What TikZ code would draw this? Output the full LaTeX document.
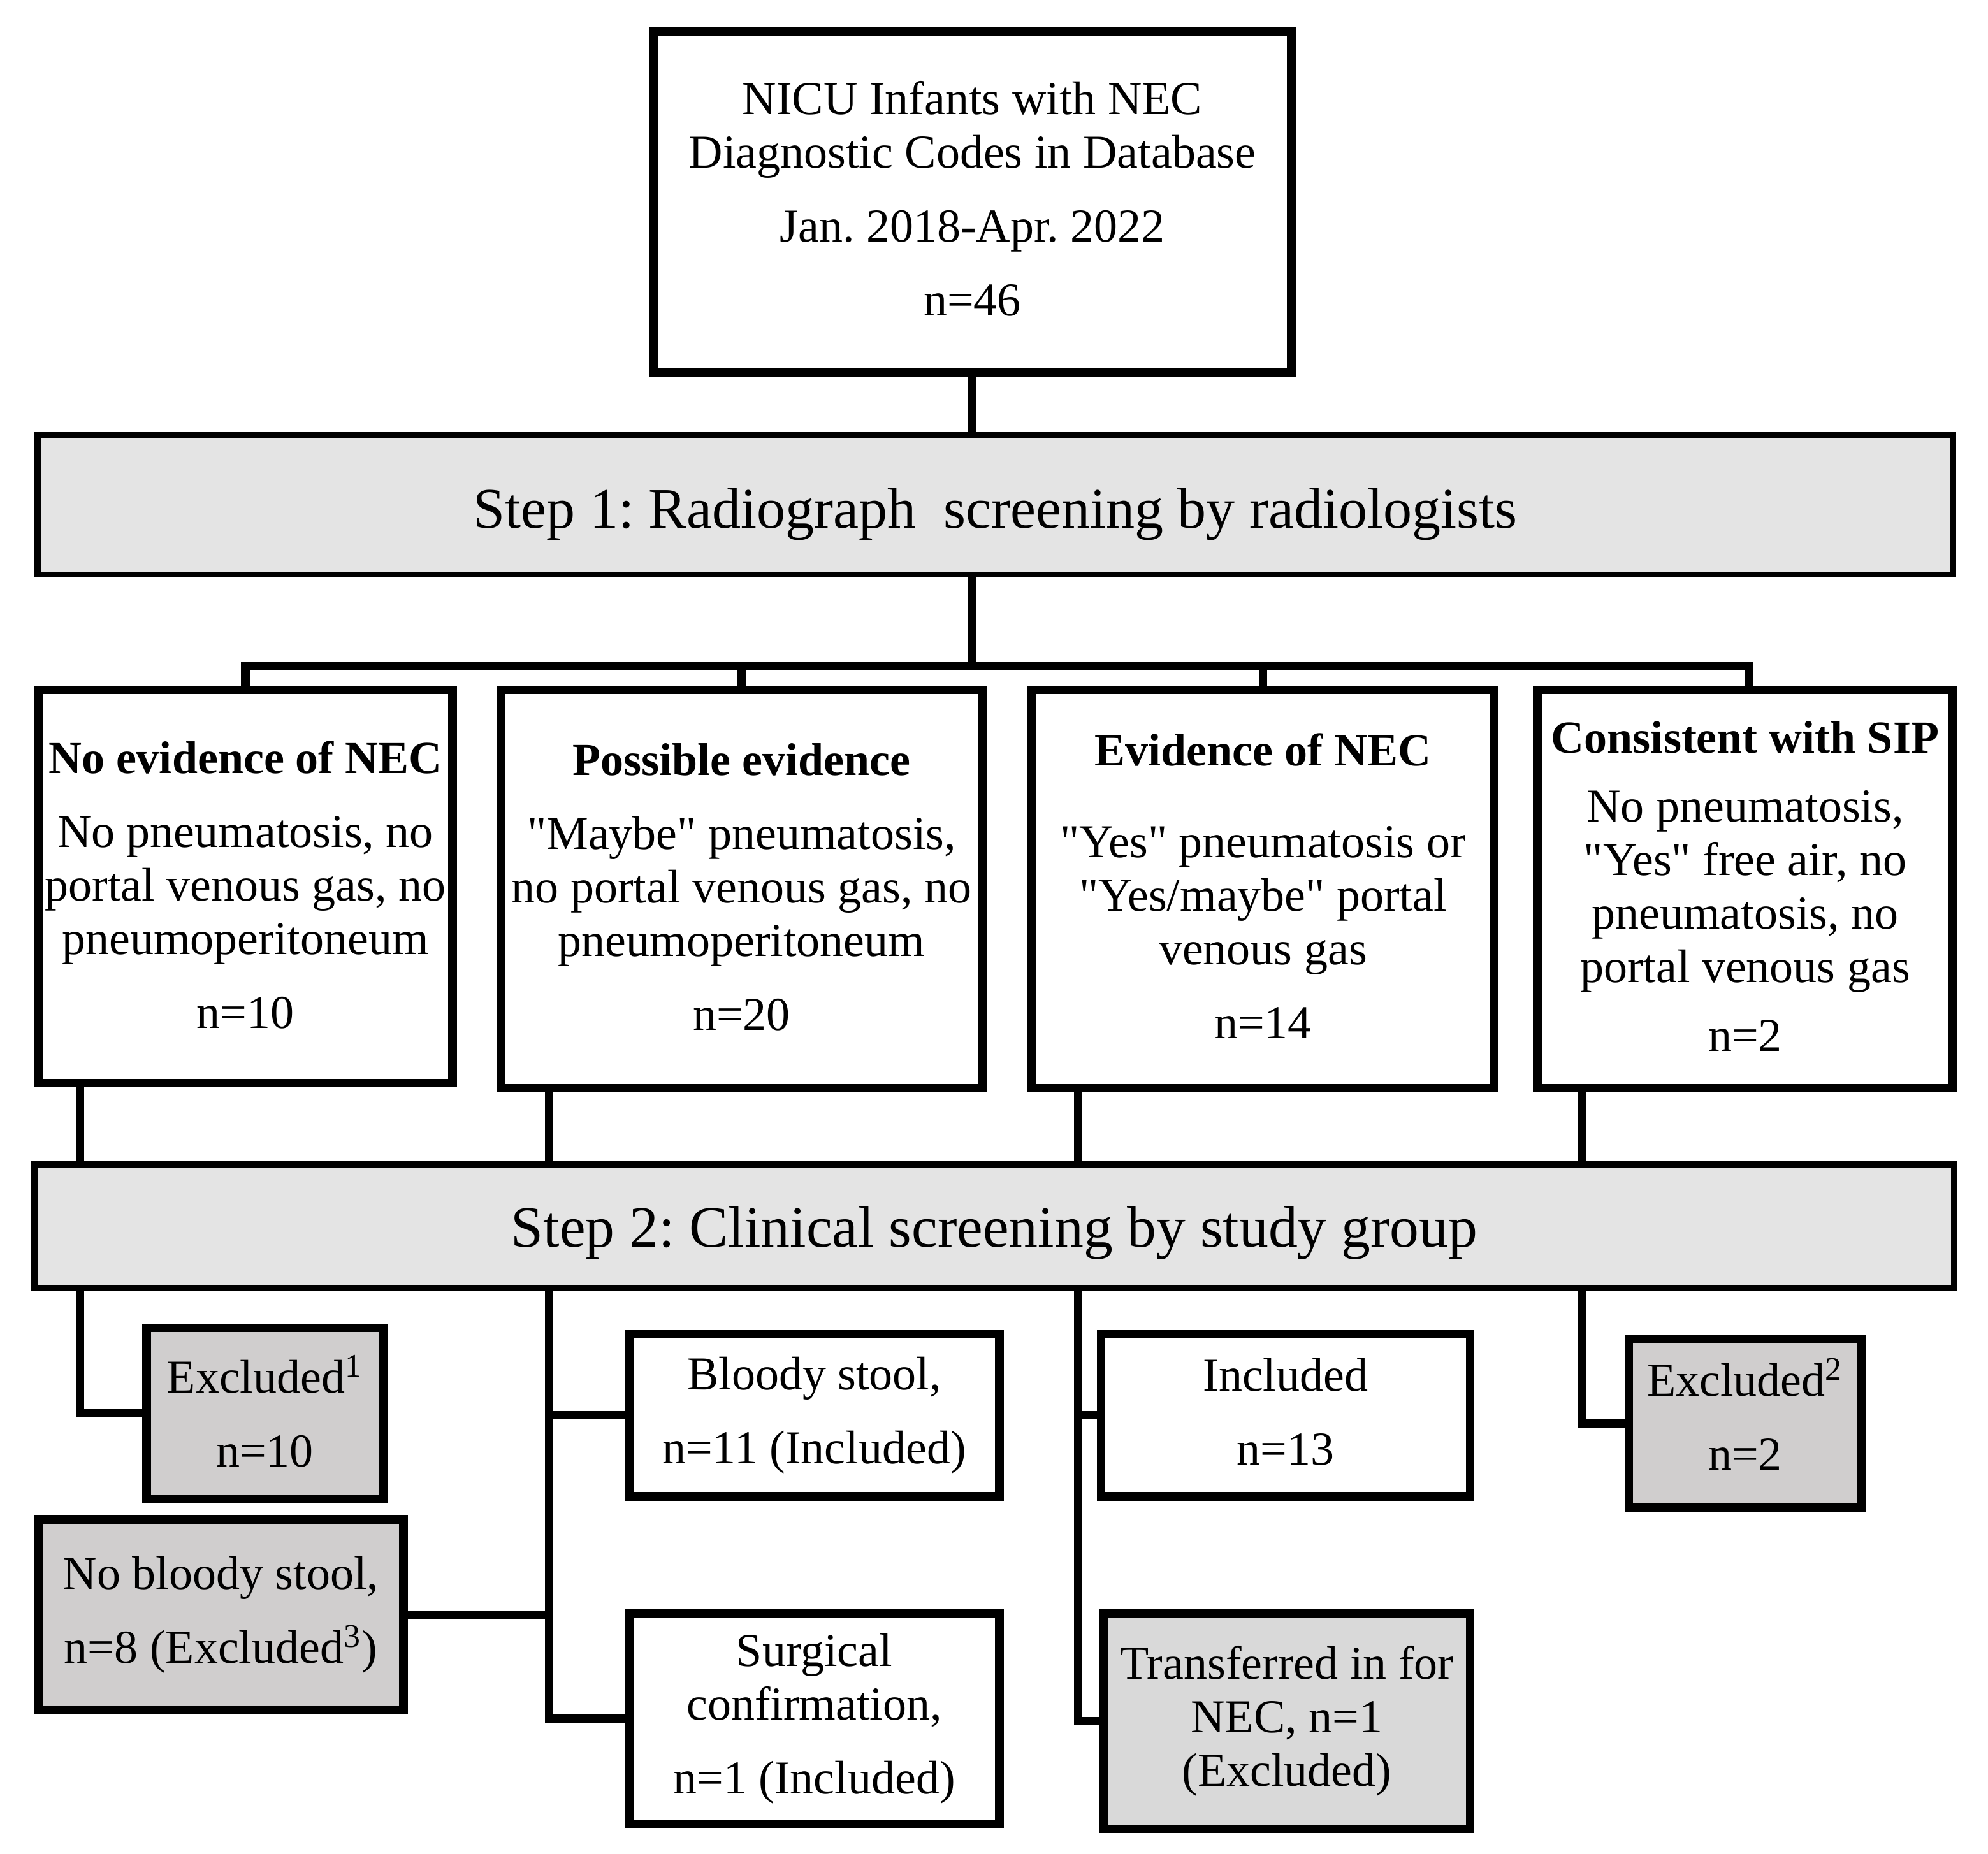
\documentclass[tikz,border=0pt]{standalone}
\usepackage{fontspec}
\setmainfont{Liberation Serif}[Ligatures=TeXOff]
\usetikzlibrary{calc}
\definecolor{stepgray}{HTML}{E4E4E4}
\definecolor{exgray}{HTML}{D0CECE}
\definecolor{trgray}{HTML}{D9D9D9}
\newcommand{\bodyfont}{\fontsize{18.5}{21}\selectfont}
\newcommand{\stepfont}{\fontsize{22.5}{26}\selectfont}
\newcommand{\steptwofont}{\fontsize{22.9}{26}\selectfont}
\newcommand{\hd}[1]{{\fontsize{18}{21}\selectfont\bfseries #1}}
\newcommand{\supr}[1]{\textsuperscript{\smash{#1}}}
\newcommand{\dstrut}[1]{\rule[-#1]{0pt}{#1}}
\frenchspacing
\begin{document}
\begin{tikzpicture}[x=0.5pt,y=-0.5pt,
  basebox/.style={draw=black, inner sep=0pt, align=center, font=\bodyfont},
  topbox/.style={basebox, line width=3.5pt, fill=white},
  stepbox/.style={basebox, line width=2.3pt, fill=stepgray, font=\stepfont, text depth=0pt},
  rowbox/.style={basebox, line width=3.4pt, fill=white},
  inbox/.style={basebox, line width=3.4pt, fill=white},
  exbox/.style={basebox, line width=3.4pt, fill=exgray},
  trbox/.style={basebox, line width=3.4pt, fill=trgray},
  conn/.style={draw=black, line width=3.4pt, line join=miter},
  connlow/.style={draw=black, line width=3.2pt, line join=miter}]
\useasboundingbox (0,0) rectangle (1559.5,1454.5);

% lanes
\coordinate (la) at (62.75,0);
\coordinate (lb) at (430.8,0);
\coordinate (lc) at (845.75,0);
\coordinate (ld) at (1240.8,0);
\coordinate (dd) at (1372,0);
\coordinate (j1) at (762.75,522.75);

\node[topbox, minimum width=250.25pt, minimum height=133.5pt] (top) at (762.75,158.5)
  {NICU Infants with NEC\\Diagnostic Codes in Database\\[8pt]Jan. 2018-Apr. 2022\\[8pt]n=46\dstrut{3pt}};

\node[stepbox, text height=18pt, minimum width=751.25pt, minimum height=54.6pt] (s1) at (780.75,396.1)
  {Step 1: Radiograph \hspace{5pt}screening by radiologists};

\node[rowbox, minimum width=162.5pt, minimum height=154.2pt] (a) at (192.5,695.5)
  {\hd{No evidence of NEC}\\[8pt]No pneumatosis, no\\portal venous gas, no\\pneumoperitoneum\\[8pt]n=10\dstrut{1.5pt}};
\node[rowbox, minimum width=188.75pt, minimum height=156.2pt] (b) at (581.75,697.5)
  {\hd{Possible evidence}\\[8pt]"Maybe" pneumatosis,\\no portal venous gas, no\\pneumoperitoneum\\[8pt]n=20\dstrut{1.5pt}};
\node[rowbox, minimum width=181.25pt, minimum height=156.2pt] (c) at (990.75,697.5)
  {\hd{Evidence of NEC}\\[15pt]"Yes" pneumatosis or\\"Yes/maybe" portal\\venous gas\\[8pt]n=14\dstrut{2.5pt}};
\node[rowbox, minimum width=163pt, minimum height=156.2pt] (d) at (1369,697.5)
  {\hd{Consistent with SIP}\\[6pt]No pneumatosis,\\"Yes" free air, no\\pneumatosis, no\\portal venous gas\\[6pt]n=2\dstrut{2pt}};

\node[stepbox, font=\steptwofont, text height=16pt, minimum width=753pt, minimum height=48.55pt] (s2) at (780,962)
  {Step 2: Clinical screening by study group};

\node[exbox, minimum width=92.75pt, minimum height=67.1pt] (e1) at (207.75,1108.9)
  {Excluded\supr{1}\\[8pt]n=10};
\node[inbox, minimum width=145.25pt, minimum height=63.7pt] (bs) at (638.75,1110.4)
  {Bloody stool,\\[8pt]n=11 (Included)};
\node[exbox, minimum width=143.2pt, minimum height=74.65pt] (nb) at (173.2,1266.65)
  {No bloody stool,\\[8pt]n=8 (Excluded\supr{3})};
\node[inbox, minimum width=145.25pt, minimum height=82.6pt] (sc) at (638.75,1348.2)
  {Surgical\\confirmation,\\[8pt]n=1 (Included)};
\node[inbox, minimum width=144.75pt, minimum height=63.7pt] (inc) at (1008.45,1110.4)
  {Included\\[8pt]n=13\dstrut{3pt}};
\node[trbox, minimum width=143.8pt, minimum height=84.6pt] (tr) at (1009.4,1350.2)
  {Transferred in for\\NEC, n=1\\(Excluded)};
\node[exbox, minimum width=91.25pt, minimum height=66.1pt] (e2) at (1369,1116.6)
  {Excluded\supr{2}\\[8pt]n=2\dstrut{5pt}};

% connectors, upper part
\draw[conn] (top.south) -- (top.south |- s1.north);
\draw[conn] (s1.south -| j1) -- (j1);
\draw[conn] (a.north) |- (j1) -| (d.north -| dd);
\draw[conn] (b.north) -- (b.north |- j1);
\draw[conn] (c.north) -- (c.north |- j1);

\draw[conn] (a.south -| la) -- (s2.north -| la);
\draw[conn] (b.south -| lb) -- (s2.north -| lb);
\draw[conn] (c.south -| lc) -- (s2.north -| lc);
\draw[conn] (d.south -| ld) -- (s2.north -| ld);

% connectors, lower part
\draw[connlow] (s2.south -| la) |- (e1.west);
\draw[connlow] (s2.south -| lb) |- (sc.west);
\draw[connlow] (bs.west) -- (bs.west -| lb);
\draw[connlow] (nb.east) -- (nb.east -| lb);
\draw[connlow] (s2.south -| lc) |- (tr.west);
\draw[connlow] (inc.west) -- (inc.west -| lc);
\draw[connlow] (s2.south -| ld) |- (e2.west);
\end{tikzpicture}
\end{document}
